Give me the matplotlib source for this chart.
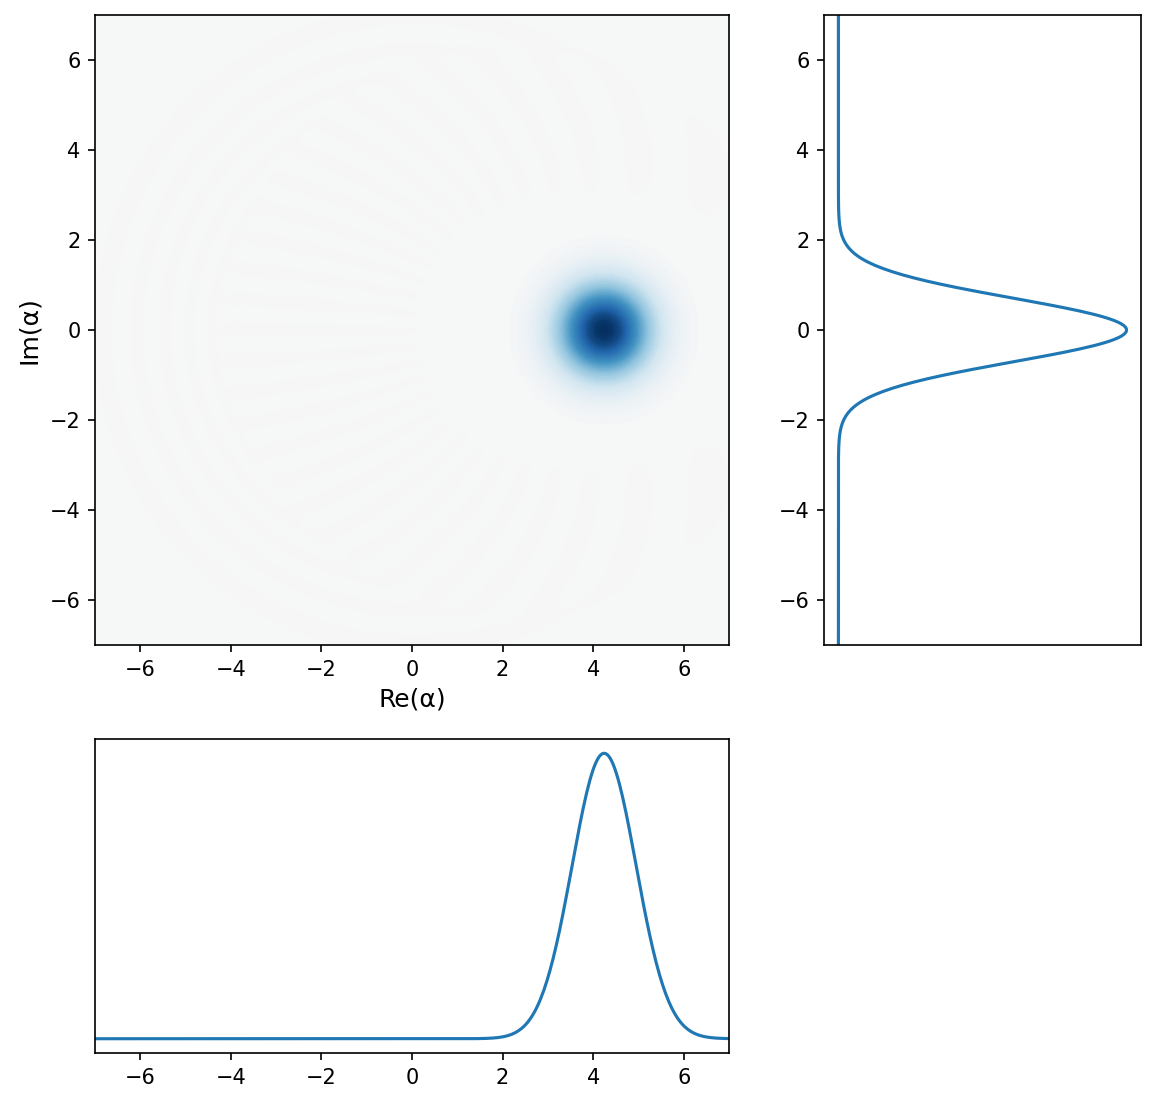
import numpy as np
import matplotlib
matplotlib.use("Agg")
import matplotlib.pyplot as plt
from matplotlib.colors import Normalize

# coherent state |alpha> in a truncated Fock space, phase space with g = sqrt(2)
alpha = 3.0
n_fock = 30
g = np.sqrt(2)
xvec = np.linspace(-7, 7, 401)
yvec = np.linspace(-7, 7, 401)


def displaced_vacuum(alpha, n):
    a = np.diag(np.sqrt(np.arange(1, n)), 1).astype(complex)
    gen = alpha * a.T - np.conj(alpha) * a
    lam, vec = np.linalg.eigh(1j * gen)
    d = vec @ np.diag(np.exp(-1j * lam)) @ vec.conj().T
    return d[:, 0]


def wigner(rho, xvec, yvec, g):
    m_dim = rho.shape[0]
    X, Y = np.meshgrid(xvec, yvec)
    A = 0.5 * g * (X + 1.0j * Y)
    wl = [np.zeros(A.shape, dtype=complex) for _ in range(m_dim)]
    wl[0] = np.exp(-2.0 * abs(A) ** 2) / np.pi
    W = np.real(rho[0, 0]) * np.real(wl[0])
    for n in range(1, m_dim):
        wl[n] = (2.0 * A * wl[n - 1]) / np.sqrt(n)
        W += 2 * np.real(rho[0, n] * wl[n])
    for m in range(1, m_dim):
        temp = wl[m].copy()
        wl[m] = (2 * np.conj(A) * temp - np.sqrt(m) * wl[m - 1]) / np.sqrt(m)
        W += np.real(rho[m, m] * wl[m])
        for n in range(m + 1, m_dim):
            temp2 = (2 * A * wl[n - 1] - np.sqrt(m) * temp) / np.sqrt(n)
            temp = wl[n].copy()
            wl[n] = temp2
            W += 2 * np.real(rho[m, n] * wl[n])
    return 0.5 * W * g ** 2


psi = displaced_vacuum(alpha, n_fock)
rho = np.outer(psi, psi.conj())
W = wigner(rho, xvec, yvec, g)
dx = xvec[1] - xvec[0]
wx = W.sum(axis=0) * dx
wy = W.sum(axis=1) * dx
wmax = np.abs(W).max()

fig = plt.figure(figsize=(1156 / 150, 1104 / 150), dpi=150)
ax = fig.add_axes([95 / 1156, 1 - 645 / 1104, 634 / 1156, 630 / 1104])
ax_r = fig.add_axes([824 / 1156, 1 - 645 / 1104, 317 / 1156, 630 / 1104])
ax_b = fig.add_axes([95 / 1156, 1 - 1053 / 1104, 634 / 1156, 314 / 1104])

ax.contourf(xvec, yvec, W, 100, cmap="RdBu", norm=Normalize(-wmax, wmax))
ax.set_xlim(-7, 7)
ax.set_ylim(-7, 7)
ax.set_xlabel("Re(α)", fontsize=12)
ax.set_ylabel("Im(α)", fontsize=12)

ax_r.plot(wy, yvec)
ax_r.set_ylim(-7, 7)
ax_r.set_xticks([])

ax_b.plot(xvec, wx)
ax_b.set_xlim(-7, 7)
ax_b.set_yticks([])

fig.savefig("out.png", dpi=150)
